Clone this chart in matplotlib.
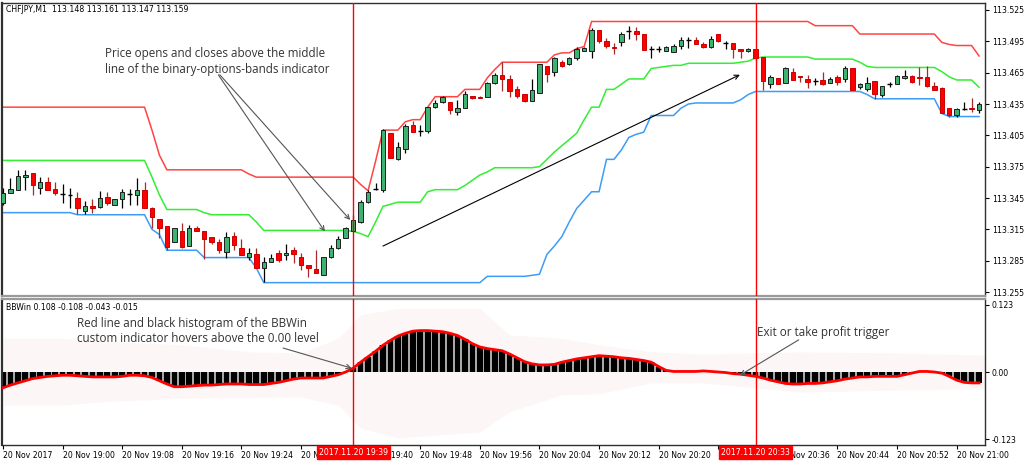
import matplotlib.pyplot as plt
import matplotlib.transforms as mtransforms
import numpy as np

# CHFJPY M1 candles, 18:52 .. 21:03 (one per minute)
opens = [113.340, 113.350, 113.353, 113.365, 113.369, 113.355, 113.360, 113.354, 113.349, 113.348,
         113.345, 113.333, 113.337, 113.336, 113.346, 113.338, 113.344, 113.349, 113.348, 113.353,
         113.335, 113.325, 113.318, 113.303, 113.313, 113.299, 113.316, 113.313, 113.308, 113.303,
         113.293, 113.309, 113.297, 113.289, 113.291, 113.278, 113.284, 113.292, 113.290, 113.295,
         113.289, 113.281, 113.277, 113.271, 113.289, 113.297, 113.307, 113.313, 113.322, 113.341,
         113.354, 113.353, 113.407, 113.382, 113.392, 113.415, 113.409, 113.409, 113.432, 113.437,
         113.437, 113.427, 113.431, 113.443, 113.442, 113.442, 113.455, 113.463, 113.459, 113.449,
         113.445, 113.438, 113.446, 113.471, 113.466, 113.475, 113.473, 113.479, 113.486, 113.486,
         113.506, 113.495, 113.490, 113.494, 113.505, 113.505, 113.502, 113.488, 113.488, 113.486,
         113.485, 113.491, 113.496, 113.496, 113.492, 113.490, 113.502, 113.493, 113.493, 113.488,
         113.486, 113.488, 113.480, 113.454, 113.460, 113.455, 113.466, 113.462, 113.459, 113.457,
         113.458, 113.455, 113.461, 113.459, 113.469, 113.451, 113.449, 113.457, 113.444, 113.454,
         113.454, 113.460, 113.462, 113.461, 113.461, 113.452, 113.450, 113.431, 113.424, 113.430,
         113.431, 113.429]
highs = [113.355, 113.364, 113.372, 113.372, 113.369, 113.365, 113.365, 113.360, 113.358, 113.355,
         113.351, 113.342, 113.344, 113.352, 113.351, 113.344, 113.354, 113.354, 113.364, 113.360,
         113.336, 113.325, 113.318, 113.316, 113.321, 113.319, 113.318, 113.313, 113.308, 113.306,
         113.312, 113.312, 113.306, 113.297, 113.297, 113.289, 113.291, 113.295, 113.301, 113.298,
         113.292, 113.281, 113.295, 113.289, 113.300, 113.309, 113.317, 113.329, 113.343, 113.353,
         113.359, 113.411, 113.407, 113.399, 113.416, 113.419, 113.415, 113.432, 113.439, 113.443,
         113.437, 113.439, 113.447, 113.443, 113.443, 113.456, 113.465, 113.475, 113.463, 113.452,
         113.445, 113.459, 113.473, 113.471, 113.480, 113.477, 113.480, 113.490, 113.490, 113.508,
         113.506, 113.498, 113.493, 113.504, 113.510, 113.509, 113.502, 113.491, 113.491, 113.491,
         113.492, 113.499, 113.499, 113.499, 113.494, 113.500, 113.502, 113.495, 113.493, 113.488,
         113.489, 113.488, 113.480, 113.463, 113.460, 113.470, 113.469, 113.462, 113.463, 113.460,
         113.466, 113.461, 113.463, 113.471, 113.469, 113.455, 113.461, 113.457, 113.452, 113.456,
         113.463, 113.468, 113.463, 113.470, 113.471, 113.456, 113.451, 113.431, 113.431, 113.437,
         113.441, 113.437]
lows = [113.338, 113.350, 113.353, 113.353, 113.348, 113.349, 113.353, 113.348, 113.340, 113.335,
        113.330, 113.330, 113.331, 113.335, 113.338, 113.338, 113.335, 113.338, 113.338, 113.335,
        113.316, 113.307, 113.295, 113.303, 113.297, 113.299, 113.313, 113.287, 113.301, 113.292,
        113.288, 113.295, 113.290, 113.286, 113.278, 113.265, 113.284, 113.284, 113.286, 113.283,
        113.276, 113.269, 113.273, 113.271, 113.288, 113.296, 113.307, 113.313, 113.321, 113.340,
        113.353, 113.351, 113.383, 113.381, 113.388, 113.408, 113.404, 113.407, 113.431, 113.436,
        113.425, 113.424, 113.431, 113.440, 113.441, 113.442, 113.454, 113.447, 113.442, 113.441,
        113.437, 113.438, 113.446, 113.456, 113.462, 113.470, 113.472, 113.477, 113.486, 113.479,
        113.493, 113.489, 113.483, 113.491, 113.497, 113.496, 113.487, 113.479, 113.485, 113.486,
        113.485, 113.488, 113.489, 113.492, 113.489, 113.489, 113.494, 113.488, 113.479, 113.479,
        113.485, 113.476, 113.448, 113.450, 113.454, 113.455, 113.458, 113.456, 113.450, 113.453,
        113.453, 113.455, 113.453, 113.456, 113.448, 113.449, 113.447, 113.440, 113.442, 113.451,
        113.454, 113.459, 113.455, 113.453, 113.451, 113.448, 113.426, 113.423, 113.423, 113.429,
        113.427, 113.426]
closes = [113.350, 113.354, 113.366, 113.367, 113.357, 113.360, 113.353, 113.350, 113.349, 113.348,
          113.335, 113.337, 113.335, 113.345, 113.340, 113.344, 113.351, 113.349, 113.353, 113.335,
          113.327, 113.316, 113.298, 113.316, 113.298, 113.316, 113.313, 113.306, 113.303, 113.295,
          113.308, 113.300, 113.290, 113.292, 113.278, 113.284, 113.288, 113.286, 113.292, 113.291,
          113.281, 113.278, 113.273, 113.289, 113.297, 113.306, 113.316, 113.324, 113.341, 113.351,
          113.354, 113.410, 113.383, 113.394, 113.414, 113.408, 113.409, 113.432, 113.436, 113.442,
          113.429, 113.431, 113.445, 113.441, 113.441, 113.455, 113.463, 113.459, 113.447, 113.443,
          113.438, 113.448, 113.473, 113.464, 113.479, 113.471, 113.479, 113.488, 113.489, 113.506,
          113.495, 113.491, 113.489, 113.502, 113.505, 113.502, 113.487, 113.488, 113.488, 113.490,
          113.491, 113.496, 113.496, 113.492, 113.490, 113.497, 113.495, 113.493, 113.488, 113.486,
          113.488, 113.479, 113.457, 113.461, 113.454, 113.469, 113.458, 113.461, 113.456, 113.457,
          113.454, 113.459, 113.456, 113.469, 113.448, 113.454, 113.455, 113.445, 113.452, 113.454,
          113.462, 113.462, 113.456, 113.460, 113.452, 113.448, 113.426, 113.424, 113.430, 113.430,
          113.430, 113.435]

# binary-options-bands indicator
band_upper = ([113.432] * 20 + [113.410, 113.386] + [113.372] * 11 + [113.368] + [113.365] * 14 +
              [113.358, 113.352, 113.380] + [113.410] * 3 + [113.418, 113.420, 113.420, 113.432] +
              [113.442] * 4 + [113.449] * 3 + [113.460, 113.468] + [113.475] * 7 +
              [113.482, 113.484, 113.484, 113.488, 113.490] + [113.514] * 30 + [113.510] * 6 +
              [113.502] * 11 + [113.494, 113.492, 113.491, 113.491, 113.491, 113.481])
band_middle = ([113.381] * 20 + [113.365, 113.348] + [113.334] * 5 + [113.331] + [113.329] * 6 +
               [113.322] + [113.314] * 12 + [113.313, 113.311, 113.308, 113.322, 113.337, 113.339] +
               [113.341] * 4 + [113.351] + [113.353] * 4 + [113.357, 113.362, 113.367, 113.370] +
               [113.374] * 6 + [113.375, 113.382, 113.389, 113.395, 113.401, 113.407, 113.420,
                                113.432, 113.432, 113.449, 113.449, 113.454, 113.459, 113.459,
                                113.459, 113.469, 113.470, 113.471, 113.472, 113.472] +
               [113.474] * 7 + [113.475, 113.476, 113.479] + [113.480] * 7 + [113.478] * 6 +
               [113.475, 113.471] + [113.470] * 9 + [113.466, 113.461, 113.458, 113.458, 113.458,
                                                     113.451])
band_lower = ([113.331] * 10 + [113.329] * 10 + [113.315, 113.310] + [113.295] * 5 + [113.288] * 7 +
              [113.278] + [113.264] * 30 + [113.270] * 6 +
              [113.271, 113.272, 113.291, 113.299, 113.308, 113.322, 113.335, 113.343, 113.351,
               113.351, 113.382, 113.382, 113.391, 113.403, 113.406, 113.408] +
              [113.424] * 4 + [113.431, 113.435] + [113.436] * 6 + [113.439, 113.444] +
              [113.447] * 15 + [113.444] + [113.440] * 9 + [113.426] + [113.423] * 5)

# BBWin oscillator (histogram + signal line)
bbwin = [-0.029, -0.024, -0.020, -0.016, -0.012, -0.010, -0.008, -0.007, -0.006, -0.006,
         -0.007, -0.008, -0.009, -0.009, -0.009, -0.009, -0.008, -0.006, -0.006, -0.007,
         -0.010, -0.016, -0.022, -0.027, -0.027, -0.026, -0.025, -0.024, -0.024, -0.023,
         -0.022, -0.022, -0.022, -0.023, -0.023, -0.023, -0.021, -0.019, -0.016, -0.013,
         -0.011, -0.011, -0.011, -0.011, -0.008, -0.005, 0.000, 0.007, 0.018, 0.028,
         0.038, 0.049, 0.058, 0.066, 0.071, 0.075, 0.076, 0.076, 0.075, 0.074,
         0.071, 0.067, 0.060, 0.052, 0.046, 0.043, 0.041, 0.039, 0.033, 0.026,
         0.019, 0.015, 0.013, 0.013, 0.014, 0.018, 0.021, 0.024, 0.026, 0.028,
         0.030, 0.029, 0.028, 0.026, 0.025, 0.023, 0.021, 0.018, 0.010, 0.003,
         0.001, 0.001, 0.001, 0.001, 0.002, 0.001, 0.000, -0.001, -0.003, -0.004,
         -0.006, -0.008, -0.011, -0.015, -0.018, -0.021, -0.022, -0.022, -0.021, -0.021,
         -0.020, -0.018, -0.016, -0.013, -0.011, -0.009, -0.009, -0.008, -0.008, -0.008,
         -0.008, -0.005, -0.002, 0.001, 0.001, 0.000, -0.002, -0.008, -0.015, -0.019,
         -0.020, -0.020]
# faint envelope behind the oscillator
env_x = [0, 8, 13, 24, 33, 40, 45, 48, 53, 64, 68, 75, 80, 87, 94, 107, 120, 132]
env_up = [0.062, 0.062, 0.057, 0.050, 0.037, 0.035, 0.062, 0.105, 0.117, 0.117, 0.068, 0.062,
          0.050, 0.037, 0.033, 0.037, 0.035, 0.031]
env_lo = [-0.061, -0.061, -0.055, -0.048, -0.047, -0.046, -0.061, -0.103, -0.121, -0.110, -0.073,
          -0.042, -0.040, -0.020, -0.020, -0.037, -0.033, -0.031]

price_ticks = [113.255, 113.285, 113.315, 113.345, 113.375, 113.405, 113.435, 113.465, 113.495, 113.525]
osc_ticks = [-0.123, 0.0, 0.123]
osc_labels = ['-0.123', '0.00', '0.123']
time_ticks = [0, 8, 16, 24, 32, 40, 48, 56, 64, 72, 80, 88, 96, 104, 112, 120, 128]
time_labels = ['20 Nov 2017', '20 Nov 19:00', '20 Nov 19:08', '20 Nov 19:16', '20 Nov 19:24',
               '20 Nov 19:32', '20 Nov 19:40', '20 Nov 19:48', '20 Nov 19:56', '20 Nov 20:04',
               '20 Nov 20:12', '20 Nov 20:20', '', '20 Nov 20:36', '20 Nov 20:44',
               '20 Nov 20:52', '20 Nov 21:00']
vline_idx = [47, 101]
vline_labels = ['2017.11.20 19:39', '2017.11.20 20:33']

W, H = 1024, 465
fig = plt.figure(figsize=(W / 100, H / 100), dpi=100)
ax = fig.add_axes([2 / W, 1 - 296 / H, 983 / W, 293 / H])
ax2 = fig.add_axes([2 / W, 1 - 445 / H, 983 / W, 146 / H])

x = np.arange(len(opens))
o, h, l, c = (np.array(v) for v in (opens, highs, lows, closes))
up = c > o
dn = c < o
dj = c == o

# bands
ax.plot(x, band_upper, color='#ff4444', lw=1.1, zorder=2)
ax.plot(x, band_middle, color='#33ee33', lw=1.1, zorder=2)
ax.plot(x, band_lower, color='#3d9cf5', lw=1.1, zorder=2)

# candles
ax.vlines(x[up | dj], l[up | dj], h[up | dj], color='black', lw=0.9, zorder=3)
ax.vlines(x[dn], l[dn], h[dn], color='#a52a2a', lw=0.9, zorder=3)
ax.bar(x[up], c[up] - o[up], bottom=o[up], width=0.6, color='#3cb371',
       edgecolor='#1e1e1e', lw=0.7, zorder=4)
ax.bar(x[dn], o[dn] - c[dn], bottom=c[dn], width=0.6, color='#ff0000',
       edgecolor='#cc0000', lw=0.7, zorder=4)
ax.hlines(c[dj], x[dj] - 0.33, x[dj] + 0.33, color='black', lw=1.0, zorder=4)

ax.set_xlim(-0.13, 131.8)
ax.set_ylim(113.2512, 113.5317)
ax.yaxis.tick_right()
ax.set_yticks(price_ticks)
ax.set_yticklabels([f'{p:.3f}' for p in price_ticks])
ax.tick_params(axis='y', direction='out', length=3, pad=2, labelsize=5.6, colors='black')
ax.tick_params(axis='x', bottom=False, labelbottom=False)

# oscillator
ax2.fill_between(env_x, env_lo, env_up, color='#fdf6f6', lw=0, zorder=0)
ax2.fill_between(x, 0, bbwin, step='mid', color='#a8a8a8', lw=0, zorder=1)
ax2.bar(x, bbwin, width=0.76, color='black', zorder=2)
ax2.plot(x, bbwin, color='#ff0000', lw=2, zorder=3)
ax2.set_xlim(-0.13, 131.8)
ax2.set_ylim(-0.134, 0.134)
ax2.yaxis.tick_right()
ax2.set_yticks(osc_ticks)
ax2.set_yticklabels(osc_labels)
ax2.tick_params(axis='y', direction='out', length=3, pad=2, labelsize=5.6)
ax2.set_xticks(time_ticks)
ax2.set_xticklabels(time_labels)
for t in ax2.get_xticklabels():
    t.set_horizontalalignment('left')
ax2.tick_params(axis='x', direction='out', length=3, pad=1.5, labelsize=5.6)

for a in (ax, ax2):
    for s in a.spines.values():
        s.set_color('#303030')
        s.set_linewidth(1.0)
    a.spines['left'].set_linewidth(1.6)
    for vi in vline_idx:
        a.axvline(vi, color='#ff0000', lw=1, zorder=5)
ax.spines['bottom'].set_color('#9a9a9a')
ax.spines['bottom'].set_linewidth(1.6)
ax2.spines['top'].set_color('#9a9a9a')
ax2.spines['top'].set_linewidth(1.6)

trans = mtransforms.blended_transform_factory(ax2.transData, ax2.transAxes)
for vi, lab in zip(vline_idx, vline_labels):
    ax2.text(vi, -0.052, lab, transform=trans, ha='center', va='center', fontsize=5.6,
             color='white', zorder=10, clip_on=False,
             bbox=dict(boxstyle='square,pad=0.25', facecolor='#ff0000', edgecolor='#ff0000'))

# headers
fig.text(6 / W, 1 - 10 / H, 'CHFJPY,M1  113.148 113.161 113.147 113.159', fontsize=5.6, va='center')
fig.text(6 / W, 1 - 307 / H, 'BBWin 0.108 -0.108 -0.043 -0.015', fontsize=5.6, va='center')

# annotations
afont = dict(family='Open Sans', fontsize=8.4, color='#333333', va='center', ha='left')
fig.text(105 / W, 1 - 53 / H, 'Price opens and closes above the middle', **afont)
fig.text(105 / W, 1 - 69 / H, 'line of the binary-options-bands indicator', **afont)
fig.text(77 / W, 1 - 323 / H, 'Red line and black histogram of the BBWin', **afont)
fig.text(77 / W, 1 - 339 / H, 'custom indicator hovers above the 0.00 level', **afont)
fig.text(757 / W, 1 - 332 / H, 'Exit or take profit trigger', **afont)

arr = dict(arrowstyle='->', color='#555555', lw=0.8, shrinkA=0, shrinkB=0, mutation_scale=8)
ax.annotate('', xy=(43.2, 113.313), xytext=(28.9, 113.463), arrowprops=arr)
ax.annotate('', xy=(46.6, 113.324), xytext=(29.1, 113.463), arrowprops=arr)
ax.annotate('', xy=(98.9, 113.463), xytext=(51.0, 113.299),
            arrowprops=dict(arr, color='black'))
ax2.annotate('', xy=(46.8, 0.007), xytext=(37.6, 0.044), arrowprops=arr)
ax2.annotate('', xy=(98.9, -0.006), xytext=(106.8, 0.059), arrowprops=arr)

fig.savefig('out.png', dpi=100)
